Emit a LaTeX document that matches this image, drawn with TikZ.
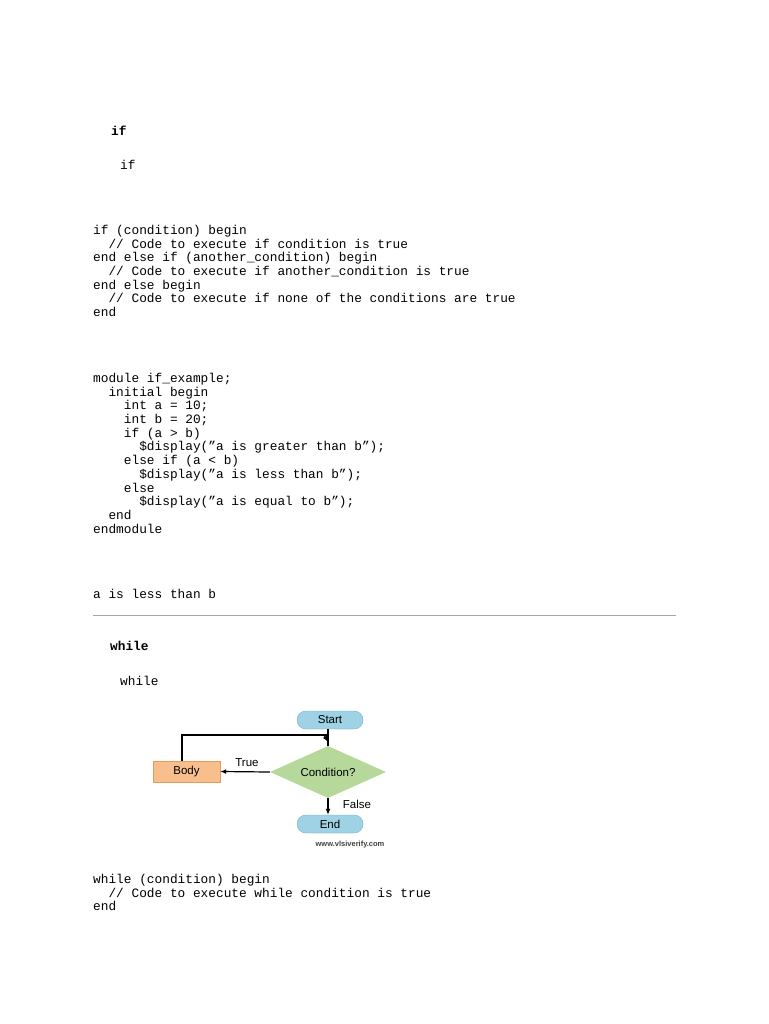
\documentclass[tikz,border=0pt]{standalone}
\usepackage{fontspec}
\setmainfont{Liberation Mono}
\newfontfamily\sansf{Liberation Sans}
\usetikzlibrary{shapes.geometric,arrows.meta}
\definecolor{boxblue}{HTML}{9FD2E4}
\definecolor{boxblueD}{HTML}{6BB0CC}
\definecolor{dgreen}{HTML}{B6D89B}
\definecolor{borange}{HTML}{F8BE8C}
\definecolor{borangeD}{HTML}{E39A5E}
\tikzset{
 code/.style={anchor=north west,inner sep=0pt,align=left,font=\fontsize{12.8}{13.7}\selectfont},
 term/.style={rounded rectangle,fill=boxblue,draw=boxblueD,minimum width=66pt,minimum height=18pt,inner sep=0pt,font=\sansf\fontsize{11.5}{12}\selectfont},
 flow/.style={line width=1.2pt,-{Latex[length=6pt,width=5pt]}},
 lbl/.style={font=\sansf\fontsize{11.5}{12}\selectfont,inner sep=0pt}
}
\usetikzlibrary{shapes.misc}
\begin{document}
\begin{tikzpicture}[x=1pt,y=-1pt]
\useasboundingbox[fill=white] (0,0) rectangle (768,1024);
\node[code,font=\fontsize{12.8}{13.7}\selectfont\bfseries] (h1) at (111,126) {if};
\node[code] (t1) at (120,160) {if};
\node[code] (c1) at (93,225) {if (condition) begin\\
\ \ // Code to execute if condition is true\\
end else if (another\_condition) begin\\
\ \ // Code to execute if another\_condition is true\\
end else begin\\
\ \ // Code to execute if none of the conditions are true\\
end};
\node[code] (c2) at (93,373) {module if\_example;\\
\ \ initial begin\\
\ \ \ \ int a = 10;\\
\ \ \ \ int b = 20;\\
\ \ \ \ if (a > b)\\
\ \ \ \ \ \ \$display("a is greater than b");\\
\ \ \ \ else if (a < b)\\
\ \ \ \ \ \ \$display("a is less than b");\\
\ \ \ \ else\\
\ \ \ \ \ \ \$display("a is equal to b");\\
\ \ end\\
endmodule};
\node[code] (out) at (93,589) {a is less than b};
\coordinate (r1) at (93,615); \coordinate (r2) at (676,615);
\draw[gray!70,line width=1pt] (r1) -- (r2);
\node[code,font=\fontsize{12.8}{13.7}\selectfont\bfseries] (h2) at (110,641) {while};
\node[code] (t2) at (120,676) {while};
% flowchart
\node[term] (start) at (330,720) {Start};
\node[diamond,fill=dgreen,minimum width=116pt,minimum height=52pt,inner sep=0pt,aspect=2.2,font=\sansf\fontsize{11.5}{12}\selectfont] (cond) at (328,772) {Condition?};
\node[rectangle,fill=borange,draw=borangeD,minimum width=67pt,minimum height=21pt,inner sep=0pt,font=\sansf\fontsize{11.5}{12}\selectfont] (body) at (186.5,771.5) {Body};
\node[term] (end) at (330,824) {End};
\coordinate (j) at (328,735);
\draw[line width=1.2pt] (start.south -| cond.north) -- (cond.north);
\draw[line width=1.2pt] (body.north -| 182,0) -- (182,735) -- (j);
\draw[flow] (324,735) -- (328,742);
\draw[flow] (cond.west) -- (body.east);
\draw[flow] (cond.south) -- (end.north -| cond.south);
\node[lbl] (tl) at (247,763) {True};
\node[lbl] (fl) at (357,804) {False};
\node[lbl,font=\sansf\bfseries\fontsize{7.5}{8}\selectfont,text=black!75] (www) at (350,845) {www.vlsiverify.com};
\node[code] (c3) at (93,874) {while (condition) begin\\
\ \ // Code to execute while condition is true\\
end};
\end{tikzpicture}
\end{document}
